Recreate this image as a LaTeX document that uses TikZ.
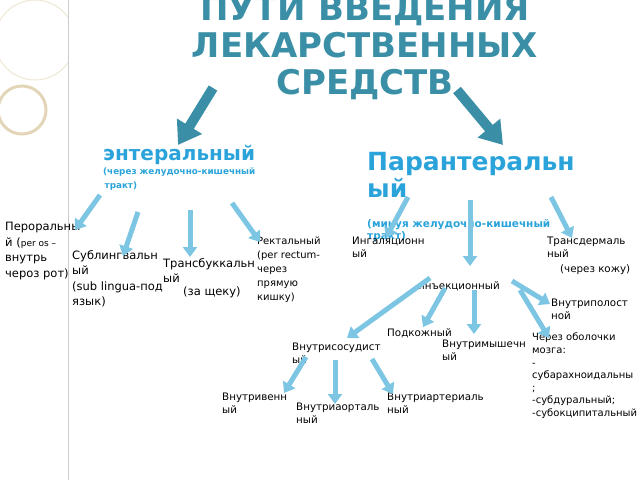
\documentclass[tikz,border=0pt]{standalone}
\usepackage{fontspec}
\setmainfont{DejaVu Sans}
\usetikzlibrary{arrows.meta}
\definecolor{titleblue}{HTML}{3A8FA6}
\definecolor{headblue}{HTML}{2AA3DA}
\definecolor{arrblue}{HTML}{7CC6E4}
\definecolor{decor}{HTML}{E3D6B8}
\tikzset{
  lbl/.style={anchor=north west, inner sep=0pt, align=left, font=\fontsize{10.3}{13}\selectfont},
  lblbig/.style={lbl, font=\fontsize{11.5}{15.5}\selectfont},
  arr/.style={line width=5pt, draw=arrblue, -{Triangle[length=10pt,width=14pt]}},
  bigarr/.style={line width=10pt, draw=titleblue, -{Triangle[length=22pt,width=28pt]}}
}
\begin{document}
\begin{tikzpicture}[x=1pt,y=-1pt]
  \useasboundingbox (0,0) rectangle (640,480);
  % decoration at the left edge
  \begin{scope}
    \clip (0,0) rectangle (68,480);
    \draw[decor, line width=3pt] (22,110) circle (24);
    \draw[decor!60, line width=1pt] (35,40) circle (40);
  \end{scope}
  \draw[gray!40, line width=1pt] (68,0) -- (68,480);

  % title
  \node[font=\bfseries\fontsize{34}{37}\selectfont, text=titleblue, align=center, inner sep=0pt]
    (title) at (365,48) {ПУТИ ВВЕДЕНИЯ\\ЛЕКАРСТВЕННЫХ\\СРЕДСТВ};

  % two main groups
  \node[lbl, text=headblue, font=\bfseries\fontsize{20}{22}\selectfont] (enter) at (103,145) {энтеральный};
  \node[lbl, text=headblue, font=\bfseries\fontsize{8.8}{14}\selectfont] (entersub) at (103,168) {(через желудочно-кишечный\\ \,тракт)};
  \node[lbl, text=headblue, font=\bfseries\fontsize{25}{27}\selectfont] (parent) at (367,152) {Парантеральн\\ый};
  \node[lbl, text=headblue, font=\bfseries\fontsize{10.5}{12}\selectfont] (parentsub) at (367,219) {(минуя желудочно-кишечный\\тракт)};

  \coordinate (t1) at (213,88);  \coordinate (t2) at (457,90);
  \draw[bigarr] (t1) -- (178,145) coordinate (e0);
  \draw[bigarr] (t2) -- (503,145) coordinate (p0);

  % enteral
  \node[lblbig] (peroral) at (5,222) {Пероральны\\й ({\fontsize{9}{9}\selectfont per os –}\\внутрь\\чероз рот)};
  \node[lblbig] (subling) at (72,250) {Сублингвальн\\ый\\(sub lingua-под\\язык)};
  \node[lblbig] (transb) at (163,258) {Трансбуккальн\\ый};
  \node[lblbig] (cheek) at (183,287) {(за щеку)};
  \node[lbl, font=\fontsize{10}{14}\selectfont] (rectal) at (257,237) {Ректальный\\(per rectum-\\через\\прямую\\кишку)};

  \foreach \a/\b/\c/\d [count=\i] in {100/195/75/230, 138/212/123/256, 190/210/190/257, 232/203/260/242}
    \draw[arr] (\a,\b) coordinate (es\i) -- (\c,\d) coordinate (ee\i);

  % parenteral
  \node[lbl] (inhal) at (352,237) {Ингаляционн\\ый};
  \node[lbl] (transd) at (547,237) {Трансдермаль\\ный};
  \node[lbl] (skin) at (560,264) {(через кожу)};
  \node[lbl] (inject) at (418,281) {инъекционный};
  \node[lbl] (cavity) at (551,299) {Внутриполост\\ной};
  \node[lbl] (subcut) at (387,328) {Подкожный};
  \node[lbl] (muscle) at (442,340) {Внутримышечн\\ый};
  \node[lbl, font=\fontsize{10}{12.6}\selectfont] (brain) at (532,333) {Через оболочки\\мозга:\\-\\субарахноидальны\\;\\-субдуральный;\\-субокципитальный};
  \node[lbl] (vasc) at (292,343) {Внутрисосудист\\ый};
  \node[lbl] (vein) at (222,393) {Внутривенн\\ый};
  \node[lbl] (aorta) at (296,403) {Внутриаорталь\\ный};
  \node[lbl] (artery) at (387,393) {Внутриартериаль\\ный};

  \draw[arr] (408,197) coordinate (ps1) -- (386,238);
  \draw[arr] (470,200) coordinate (ps2) -- (470,266);
  \draw[arr] (551,197) coordinate (ps3) -- (572,238);
  \draw[arr] (430,278) coordinate (is1) -- (347,338);
  \draw[arr] (445,288) coordinate (is2) -- (423,327);
  \draw[arr] (474,290) coordinate (is3) -- (474,334);
  \draw[arr] (520,290) coordinate (is4) -- (549,338);
  \draw[arr] (512,281) coordinate (is5) -- (550,304);
  \draw[arr] (306,357) coordinate (vs1) -- (284,393);
  \draw[arr] (335,360) coordinate (vs2) -- (335,404);
  \draw[arr] (372,359) coordinate (vs3) -- (393,394);
\end{tikzpicture}
\end{document}
